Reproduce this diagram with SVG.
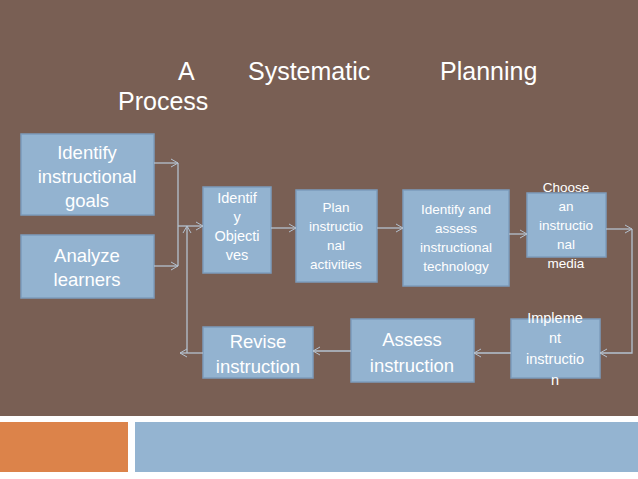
<svg xmlns="http://www.w3.org/2000/svg" width="638" height="479" viewBox="0 0 638 479">
<defs>
<marker id="ah" markerWidth="10" markerHeight="10" refX="8" refY="5" orient="auto" markerUnits="userSpaceOnUse">
<path d="M1,1 L8,5 L1,9" fill="none" stroke="#b4c2d0" stroke-width="1"/>
</marker>
</defs>
<style>
.b{fill:#93b3d0;stroke:#7c9cbc;stroke-width:1.5}
.t{font-family:"Liberation Sans",Arial,sans-serif;fill:#fff;text-anchor:middle}
.c{fill:none;stroke:#b4c2d0;stroke-width:1.3}
.h{font-family:"Liberation Sans",Arial,sans-serif;fill:#fff;font-size:25px}
</style>
<rect width="638" height="479" fill="#fff"/>
<rect width="638" height="416" fill="#795f54"/>
<rect x="0" y="422" width="128" height="50" fill="#dc834a"/>
<rect x="135" y="422" width="503" height="50" fill="#94b4d1"/>
<text class="h" x="178" y="80">A</text>
<text class="h" x="248" y="80">Systematic</text>
<text class="h" x="440" y="80">Planning</text>
<text class="h" x="118" y="110">Process</text>
<g id="goals"><rect class="b" x="21" y="134" width="133" height="81"/><text class="t" font-size="18.5"><tspan x="87" y="159">Identify</tspan><tspan x="87" y="183">instructional</tspan><tspan x="87" y="207">goals</tspan></text></g>
<g id="learners"><rect class="b" x="21" y="235" width="133" height="63"/><text class="t" font-size="18.5"><tspan x="87" y="262">Analyze</tspan><tspan x="87" y="286">learners</tspan></text></g>
<g id="objectives"><rect class="b" x="203" y="187" width="68" height="86"/><text class="t" font-size="14.5"><tspan x="237" y="203">Identif</tspan><tspan x="237" y="222">y</tspan><tspan x="237" y="241">Objecti</tspan><tspan x="237" y="260">ves</tspan></text></g>
<g id="plan"><rect class="b" x="296" y="190" width="81" height="92"/><text class="t" font-size="13.5"><tspan x="336" y="212">Plan</tspan><tspan x="336" y="231">instructio</tspan><tspan x="336" y="250">nal</tspan><tspan x="336" y="269">activities</tspan></text></g>
<g id="technology"><rect class="b" x="403" y="190" width="106" height="96"/><text class="t" font-size="13.5"><tspan x="456" y="214">Identify and</tspan><tspan x="456" y="233">assess</tspan><tspan x="456" y="252">instructional</tspan><tspan x="456" y="271">technology</tspan></text></g>
<g id="media"><rect class="b" x="527" y="193" width="79" height="64"/><text class="t" font-size="13.5"><tspan x="566" y="192">Choose</tspan><tspan x="566" y="211">an</tspan><tspan x="566" y="230">instructio</tspan><tspan x="566" y="249">nal</tspan><tspan x="566" y="268">media</tspan></text></g>
<g id="implement"><rect class="b" x="511" y="319" width="89" height="59"/><text class="t" font-size="14.5"><tspan x="555" y="323">Impleme</tspan><tspan x="555" y="343">nt</tspan><tspan x="555" y="364">instructio</tspan><tspan x="555" y="385">n</tspan></text></g>
<g id="assess"><rect class="b" x="351" y="319" width="123" height="63"/><text class="t" font-size="18.5"><tspan x="412" y="346">Assess</tspan><tspan x="412" y="372">instruction</tspan></text></g>
<g id="revise"><rect class="b" x="203" y="327" width="110" height="51"/><text class="t" font-size="18.5"><tspan x="258" y="348">Revise</tspan><tspan x="258" y="373">instruction</tspan></text></g>
<g id="connectors">
<path class="c" d="M154,163 H178" marker-end="url(#ah)"/>
<path class="c" d="M154,266 H178" marker-end="url(#ah)"/>
<path class="c" d="M178,163 V266"/>
<path class="c" d="M178,226 H203" marker-end="url(#ah)"/>
<path class="c" d="M203,353 H180" marker-end="url(#ah)"/>
<path class="c" d="M187,353 V226" marker-end="url(#ah)"/>
<path class="c" d="M271,228 H296" marker-end="url(#ah)"/>
<path class="c" d="M377,228 H403" marker-end="url(#ah)"/>
<path class="c" d="M509,234 H527" marker-end="url(#ah)"/>
<path class="c" d="M606,229 H632" marker-end="url(#ah)"/>
<path class="c" d="M632,229 V353 H600" marker-end="url(#ah)"/>
<path class="c" d="M511,353 H474" marker-end="url(#ah)"/>
<path class="c" d="M351,351 H313" marker-end="url(#ah)"/>
</g>
</svg>
